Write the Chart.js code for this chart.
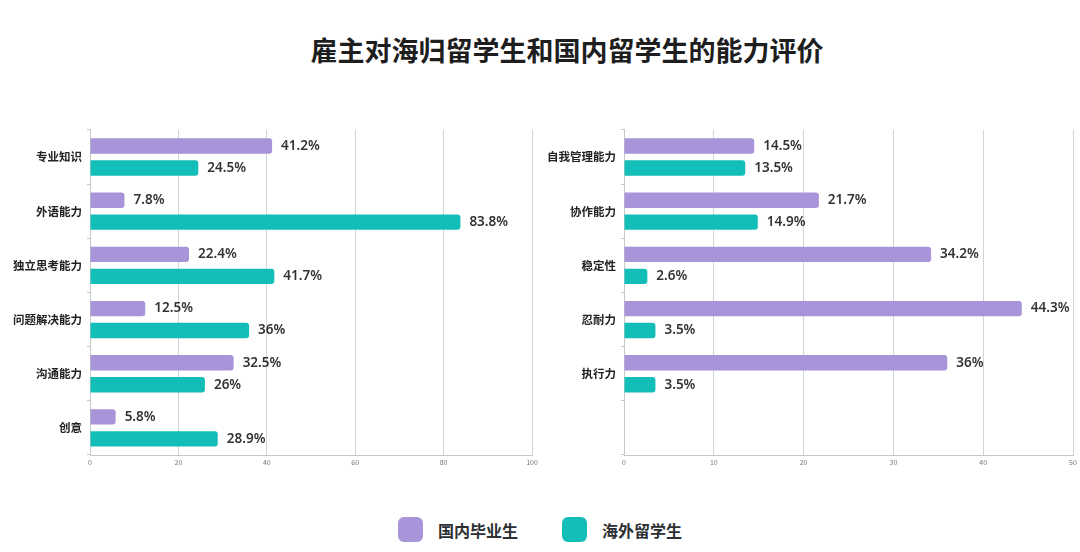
<!DOCTYPE html>
<html>
<head>
<meta charset="utf-8">
<script src="https://cdn.jsdelivr.net/npm/chart.js@4"></script>
<style>
  html, body { margin: 0; padding: 0; background: #fff; }
  #page { position: relative; width: 1080px; height: 552px; overflow: hidden; font-family: 'Noto Sans CJK SC', 'Noto Sans', sans-serif; }
  #title { position: absolute; left: 54px; top: 30px; width: 1026px; text-align: center; font-size: 27px; font-weight: 700; color: #1e1e1e; line-height: 40px; }
  #left { position: absolute; left: 0; top: 118px; }
  #right { position: absolute; left: 540px; top: 118px; }
  #legend { position: absolute; left: 0; top: 517px; width: 1080px; display: flex; justify-content: center; align-items: center; }
  .item { display: flex; align-items: center; margin: 0 22px; font-size: 16px; font-weight: 700; color: #2c2f33; }
  .box { width: 25px; height: 25px; border-radius: 6px; margin-right: 15px; }
</style>
</head>
<body>
<div id="page">
  <div id="title">雇主对海归留学生和国内留学生的能力评价</div>
  <canvas id="left" width="545" height="357"></canvas>
  <canvas id="right" width="540" height="357"></canvas>
  <div id="legend">
    <div class="item"><div class="box" style="background:#a894d8"></div>国内毕业生</div>
    <div class="item"><div class="box" style="background:#14beb8"></div>海外留学生</div>
  </div>
</div>
<script>
const seriesNames = ['国内毕业生', '海外留学生'];
const colors = ['#a894d8', '#14beb8'];

const leftCats = ['专业知识', '外语能力', '独立思考能力', '问题解决能力', '沟通能力', '创意'];
const leftDomestic = [41.2, 7.8, 22.4, 12.5, 32.5, 5.8];
const leftOverseas = [24.5, 83.8, 41.7, 36, 26, 28.9];

const rightCats = ['自我管理能力', '协作能力', '稳定性', '忍耐力', '执行力', ''];
const rightDomestic = [14.5, 21.7, 34.2, 44.3, 36, null];
const rightOverseas = [13.5, 14.9, 2.6, 3.5, 3.5, null];

Chart.defaults.font.family = "'Noto Sans CJK SC', 'Noto Sans', sans-serif";

const valueLabels = {
  id: 'valueLabels',
  afterDatasetsDraw(chart) {
    const ctx = chart.ctx;
    ctx.save();
    ctx.font = "600 13.5px 'Noto Sans', 'Noto Sans CJK SC', sans-serif";
    ctx.fillStyle = '#333';
    ctx.textBaseline = 'middle';
    ctx.textAlign = 'left';
    chart.data.datasets.forEach((ds, i) => {
      chart.getDatasetMeta(i).data.forEach((bar, j) => {
        const v = ds.data[j];
        if (v === null || v === undefined) return;
        ctx.fillText(v + '%', bar.x + 9, bar.y);
      });
    });
    ctx.restore();
  }
};

function makeChart(id, cats, domestic, overseas, max, step, yWidth, padRight) {
  return new Chart(document.getElementById(id), {
    type: 'bar',
    data: {
      labels: cats,
      datasets: [
        { label: seriesNames[0], data: domestic, backgroundColor: colors[0] },
        { label: seriesNames[1], data: overseas, backgroundColor: colors[1] }
      ]
    },
    options: {
      indexAxis: 'y',
      responsive: false,
      animation: false,
      devicePixelRatio: 1,
      categoryPercentage: 0.81,
      barPercentage: 0.7,
      borderRadius: 3,
      layout: { padding: { top: 10, right: padRight, left: 0, bottom: 0 } },
      plugins: { legend: { display: false }, tooltip: { enabled: false } },
      scales: {
        x: {
          min: 0, max: max,
          ticks: { stepSize: step, font: { size: 7 }, color: '#777', padding: 3 },
          grid: { color: '#cdd6d8', drawTicks: false },
          border: { color: '#c4caca' },
          afterFit(scale) { scale.height = 20; }
        },
        y: {
          ticks: { font: { size: 11.5, weight: 'bold' }, color: '#222', padding: 5 },
          grid: { drawOnChartArea: false, tickLength: 3, color: '#c4caca' },
          border: { color: '#c4caca' },
          afterFit(scale) { scale.width = yWidth; }
        }
      }
    },
    plugins: [valueLabels]
  });
}

makeChart('left', leftCats, leftDomestic, leftOverseas, 100, 20, 90, 13);
makeChart('right', rightCats, rightDomestic, rightOverseas, 50, 10, 84, 7);
</script>
</body>
</html>
